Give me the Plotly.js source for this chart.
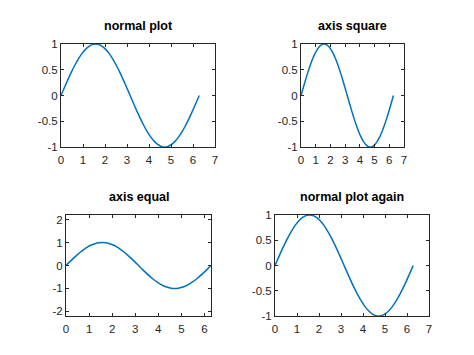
<!DOCTYPE html>
<html><head><meta charset="utf-8">
<script src="https://cdn.plot.ly/plotly-3.0.1.min.js"></script>
<style>body{margin:0;background:#fff}#c{width:474px;height:355px}</style>
</head><body><div id="c"></div>
<script>
const xVals = [0,0.157,0.314,0.471,0.628,0.785,0.942,1.100,1.257,1.414,1.571,1.728,1.885,2.042,2.199,2.356,2.513,2.670,2.827,2.985,3.142,3.299,3.456,3.613,3.770,3.927,4.084,4.241,4.398,4.555,4.712,4.869,5.027,5.184,5.341,5.498,5.655,5.812,5.969,6.126,6.283];
const yVals = [0,0.1564,0.3090,0.4540,0.5878,0.7071,0.8090,0.8910,0.9511,0.9877,1,0.9877,0.9511,0.8910,0.8090,0.7071,0.5878,0.4540,0.3090,0.1564,0,-0.1564,-0.3090,-0.4540,-0.5878,-0.7071,-0.8090,-0.8910,-0.9511,-0.9877,-1,-0.9877,-0.9511,-0.8910,-0.8090,-0.7071,-0.5878,-0.4540,-0.3090,-0.1564,0];
const titles = ["normal plot","axis square","axis equal","normal plot again"];
const xTicks7 = [0,1,2,3,4,5,6,7];
const xTicks6 = [0,1,2,3,4,5,6];
const yTicksA = [-1,-0.5,0,0.5,1];
const yTicksB = [-2,-1,0,1,2];

const W=474,H=355;
// pixel boxes [left,right,top,bottom]
const boxes = [[61,215,44,147],[301,404,44,147],[66,211,215,316],[275,429,215,316]];
const xRanges = [[0,7],[0,7],[0,6.283],[0,7]];
const yRanges = [[-1,1],[-1,1],[-2.2,2.2],[-1,1]];
const xt = [xTicks7,xTicks7,xTicks6,xTicks7];
const yt = [yTicksA,yTicksA,yTicksB,yTicksA];

const data=[], layout={width:W,height:H,margin:{l:0,r:0,t:0,b:0},showlegend:false,
 paper_bgcolor:'#fff',plot_bgcolor:'#fff',annotations:[],
 font:{family:'"Liberation Sans", Arial, sans-serif',size:11.5,color:'#262626'}};
for(let i=0;i<4;i++){
  const s = i===0?'':String(i+1);
  data.push({x:xVals,y:yVals,type:'scatter',mode:'lines',line:{color:'#0072BD',width:1.5,shape:'spline',smoothing:1},
    xaxis:'x'+s,yaxis:'y'+s,hoverinfo:'skip'});
  const b=boxes[i];
  const ax = {domain:[b[0]/W,b[1]/W],range:xRanges[i],tickvals:xt[i],ticktext:xt[i].map(String),
    ticks:'inside',ticklen:3,tickcolor:'#262626',showline:true,linecolor:'#262626',linewidth:1,
    mirror:'allticks',showgrid:false,zeroline:false,anchor:'y'+s,fixedrange:true,ticklabelstandoff:2,
    tickfont:{size:11.5,color:'#262626'}};
  const ay = {domain:[1-b[3]/H,1-b[2]/H],range:yRanges[i],tickvals:yt[i],ticktext:yt[i].map(String),
    ticks:'inside',ticklen:3,tickcolor:'#262626',showline:true,linecolor:'#262626',linewidth:1,
    mirror:'allticks',showgrid:false,zeroline:false,anchor:'x'+s,fixedrange:true,
    tickfont:{size:11.5,color:'#262626'}};
  layout['xaxis'+s]=ax; layout['yaxis'+s]=ay;
  layout.annotations.push({text:'<b>'+titles[i]+'</b>',xref:'paper',yref:'paper',
    x:(b[0]+b[1])/2/W,y:1-(b[2]-18)/H,xanchor:'center',yanchor:'middle',showarrow:false,
    font:{size:12.5,color:'#000'}});
}
Plotly.newPlot('c',data,layout,{staticPlot:true});
</script></body></html>
